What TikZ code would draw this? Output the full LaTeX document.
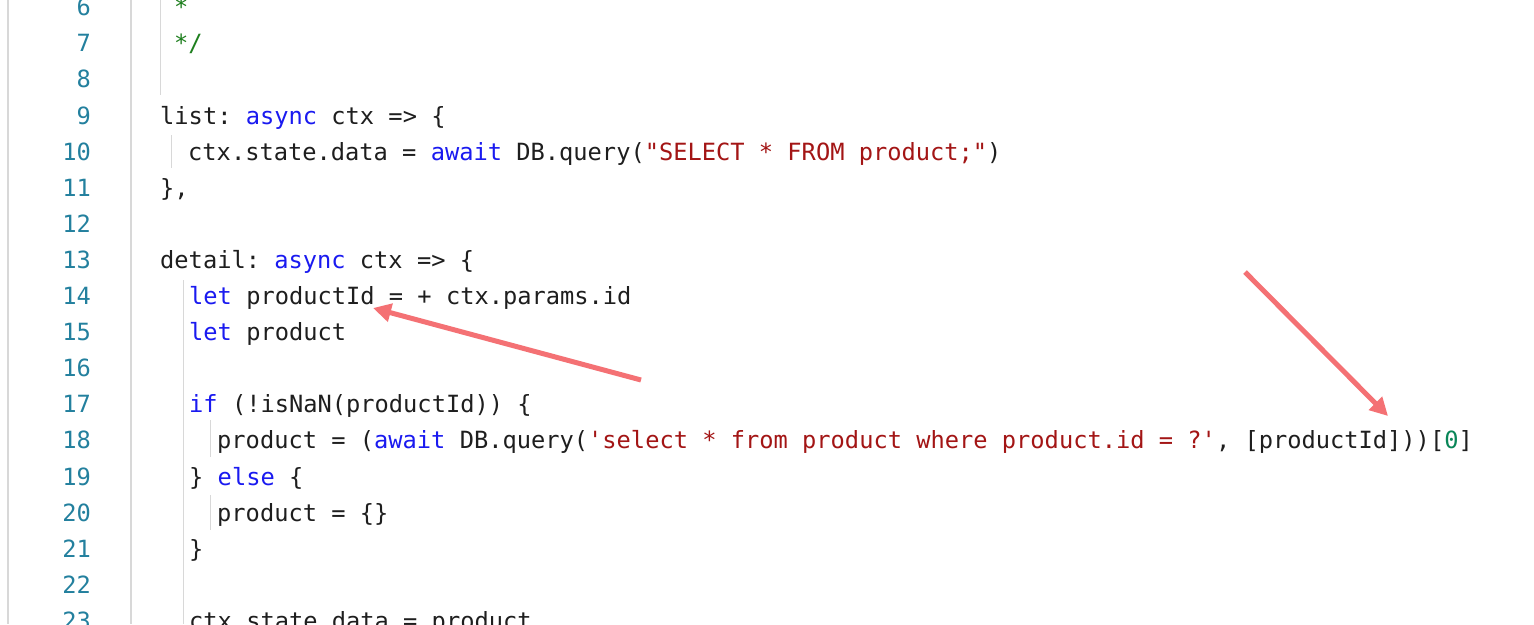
\documentclass[tikz,border=0pt]{standalone}
\usepackage{fontspec}
\setmonofont{DejaVu Sans Mono}
\usetikzlibrary{arrows.meta}
\definecolor{kwc}{HTML}{1A1AF0}
\definecolor{strc}{HTML}{A31515}
\definecolor{numc}{HTML}{098658}
\definecolor{comc}{HTML}{1E7F1E}
\definecolor{lnc}{HTML}{23809E}
\definecolor{txc}{HTML}{1E1E1E}
\definecolor{arrc}{HTML}{F47174}
\definecolor{guide}{HTML}{D8D8D8}
\newcommand{\kw}[1]{\textcolor{kwc}{#1}}
\newcommand{\st}[1]{\textcolor{strc}{#1}}
\newcommand{\nm}[1]{\textcolor{numc}{#1}}
\newcommand{\cm}[1]{\textcolor{comc}{#1}}
\begin{document}
\begin{tikzpicture}[x=1pt,y=-1pt,
  code/.style={anchor=base west,inner sep=0pt,font=\fontsize{23.7}{26}\ttfamily,text=txc},
  lnum/.style={anchor=base east,inner sep=0pt,font=\fontsize{23.7}{26}\ttfamily,text=lnc},
  guideline/.style={draw=guide,line width=1pt},
  callout/.style={draw=arrc,line width=5pt,-{Triangle[length=18pt,width=18pt]}}]
\useasboundingbox[fill=white] (0,0) rectangle (1534,624);
\draw[draw=guide,line width=1.2pt] (8,0) -- (8,624);
\draw[draw=guide,line width=1.2pt] (131,0) -- (131,624);
\foreach \n in {6,...,23}{
  \node[lnum] (ln\n) at (91,{124+(\n-9)*36.1}) {\n};
}
\def\yl#1{{124+(#1-9)*36.1}}
% indent guides
\draw[guideline] (160,0) -- (160,95);
\draw[guideline] (171,135) -- (171,168);
\draw[guideline] (183,280) -- (183,624);
\draw[guideline] (183,280) -- (183,348);
\draw[guideline] (210,420) -- (210,457);
\draw[guideline] (210,495) -- (210,530);
% code
\node[code] (c6) at (174,\yl{6}) {\cm{*}};
\node[code] (c7) at (174,\yl{7}) {\cm{*/}};
\node[code] (c9) at (160,\yl{9}) {list: \kw{async} ctx => \{};
\node[code] (c10) at (188,\yl{10}) {ctx.state.data = \kw{await} DB.query(\st{"SELECT * FROM product;"})};
\node[code] (c11) at (160,\yl{11}) {\},};
\node[code] (c13) at (160,\yl{13}) {detail: \kw{async} ctx => \{};
\node[code] (c14) at (189,\yl{14}) {\kw{let} productId = + ctx.params.id};
\node[code] (c15) at (189,\yl{15}) {\kw{let} product};
\node[code] (c17) at (189,\yl{17}) {\kw{if} (!isNaN(productId)) \{};
\node[code] (c18) at (217,\yl{18}) {product = (\kw{await} DB.query(\st{'select * from product where product.id = ?'}, [productId]))[\nm{0}]};
\node[code] (c19) at (189,\yl{19}) {\} \kw{else} \{};
\node[code] (c20) at (217,\yl{20}) {product = \{\}};
\node[code] (c21) at (189,\yl{21}) {\}};
\node[code] (c23) at (189,\yl{23}) {ctx.state.data = product};
% arrows
\coordinate (a1s) at (641,380);
\coordinate (a1e) at (373,308);
\coordinate (a2s) at (1245,272);
\coordinate (a2e) at (1388,416);
\draw[callout] (a1s) -- (a1e);
\draw[callout] (a2s) -- (a2e);
\end{tikzpicture}
\end{document}
